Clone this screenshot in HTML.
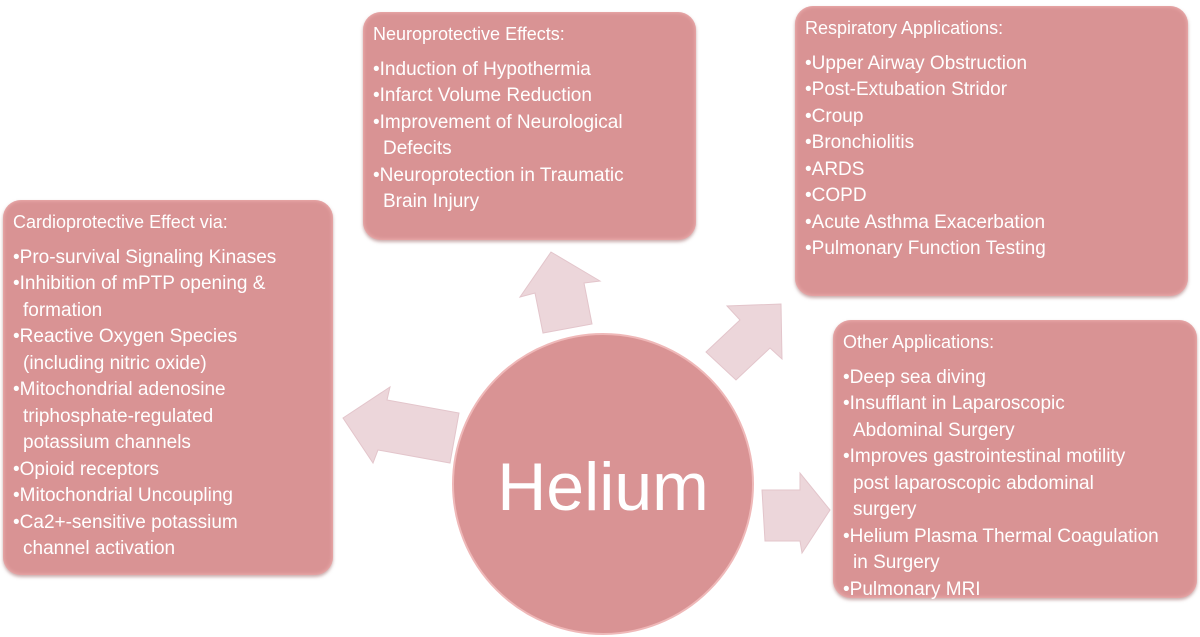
<!DOCTYPE html>
<html><head><style>
body{margin:0;width:1200px;height:637px;background:#fff;position:relative;overflow:hidden;font-family:"Liberation Sans",sans-serif;color:#fff}
.box{position:absolute;background:#d99394;border-radius:18px;box-shadow:inset 0 0 4px #f3b9b9,0 2px 3px rgba(150,90,90,.5);box-sizing:border-box;padding:9px 10px;font-size:19px;line-height:26.5px;white-space:nowrap}
.box div{padding-left:10px;text-indent:-10px}
.box .t{padding-left:0;text-indent:0;margin-bottom:9px;font-size:18px}
</style></head><body>
<svg width="1200" height="637" style="position:absolute;left:0;top:0">
<g fill="#ecd6da" stroke="#e3c5cb" stroke-width="1">
<polygon points="551,252 600,281 584,283 592,324 543,333 535,293 520,297"/>
<polygon points="781,304 782,359 770,348 736,380 706,352 740,320 727,306"/>
<polygon points="343,418 390,387 387,400 459,413 450,463 378,450 373,463"/>
<polygon points="830,510 800,473 800,490 762,490 765,541 800,541 802,553"/>
</g>
<circle cx="603" cy="484" r="150" fill="#d99394" stroke="#efb8b8" stroke-width="2"/>
<text x="603" y="510" font-family="Liberation Sans,sans-serif" font-size="68" fill="#fff" text-anchor="middle">Helium</text>
</svg>
<div class="box" style="left:3px;top:200px;width:330px;height:375px">
<div class="t">Cardioprotective Effect via:</div>
<div>•Pro-survival Signaling Kinases</div>
<div>•Inhibition of mPTP opening &amp;<br>formation</div>
<div>•Reactive Oxygen Species<br>(including nitric oxide)</div>
<div>•Mitochondrial adenosine<br>triphosphate-regulated<br>potassium channels</div>
<div>•Opioid receptors</div>
<div>•Mitochondrial Uncoupling</div>
<div>•Ca2+-sensitive potassium<br>channel activation</div>
</div>
<div class="box" style="left:363px;top:12px;width:333px;height:228px">
<div class="t">Neuroprotective Effects:</div>
<div>•Induction of Hypothermia</div>
<div>•Infarct Volume Reduction</div>
<div>•Improvement of Neurological<br>Defecits</div>
<div>•Neuroprotection in Traumatic<br>Brain Injury</div>
</div>
<div class="box" style="left:795px;top:6px;width:393px;height:290px">
<div class="t">Respiratory Applications:</div>
<div>•Upper Airway Obstruction</div>
<div>•Post-Extubation Stridor</div>
<div>•Croup</div>
<div>•Bronchiolitis</div>
<div>•ARDS</div>
<div>•COPD</div>
<div>•Acute Asthma Exacerbation</div>
<div>•Pulmonary Function Testing</div>
</div>
<div class="box" style="left:833px;top:320px;width:364px;height:278px">
<div class="t">Other Applications:</div>
<div>•Deep sea diving</div>
<div>•Insufflant in Laparoscopic<br>Abdominal Surgery</div>
<div>•Improves gastrointestinal motility<br>post laparoscopic abdominal<br>surgery</div>
<div>•Helium Plasma Thermal Coagulation<br>in Surgery</div>
<div>•Pulmonary MRI</div>
</div>
</body></html>
